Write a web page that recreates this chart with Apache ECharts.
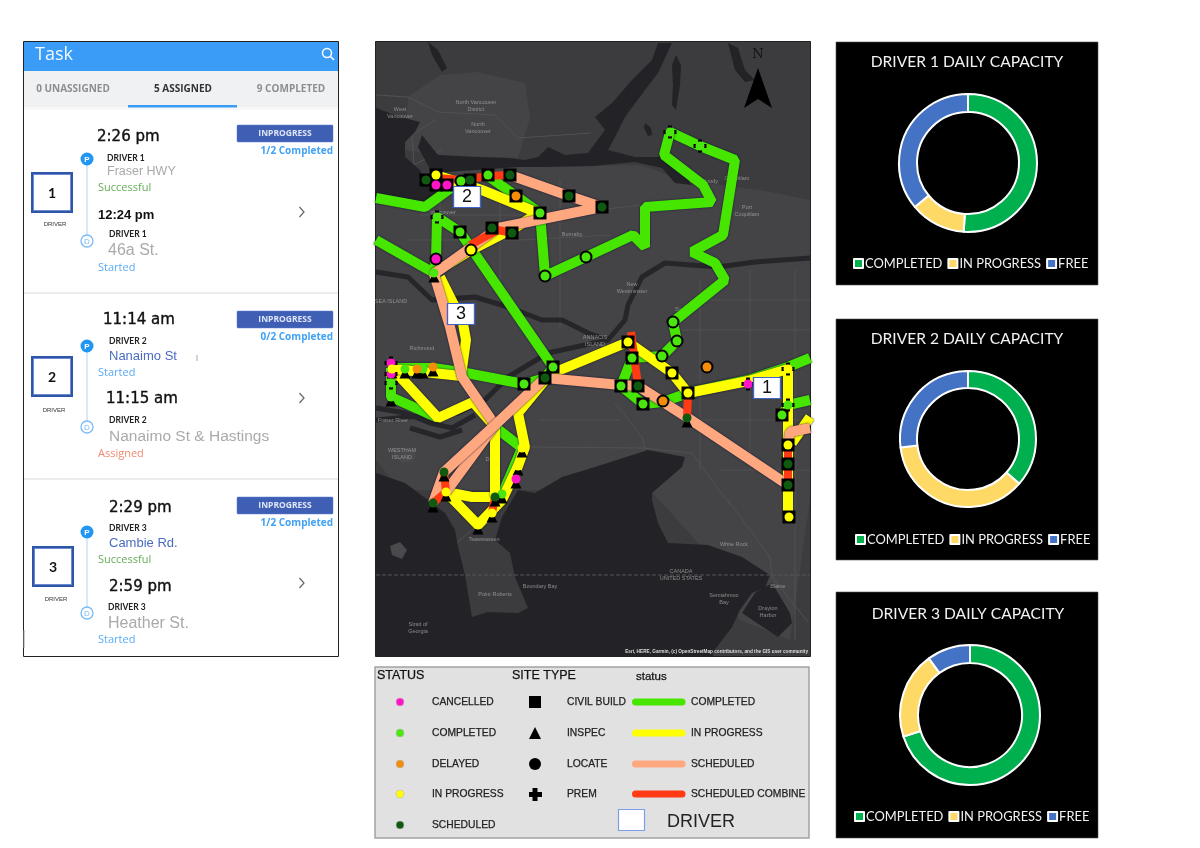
<!DOCTYPE html>
<html><head><meta charset="utf-8">
<style>html,body{margin:0;padding:0;background:#fff}#c{width:1200px;height:848px}</style>
<script src="https://cdn.jsdelivr.net/npm/echarts@6/dist/echarts.min.js"></script>
</head><body><div id="c"></div>
<script>
// ---------- donut values ----------
const capacityNames = ['COMPLETED','IN PROGRESS','FREE'];
const driver1Capacity = [51,13,36];
const driver2Capacity = [36.4,36.6,27];
const driver3Capacity = [70,20,10];
const driverTitles = ['DRIVER 1 DAILY CAPACITY','DRIVER 2 DAILY CAPACITY','DRIVER 3 DAILY CAPACITY'];

// ---------- routes (map coordinates) ----------
const completedRoutes = [
 [[670,132],[700,146],[735,160],[723,235],[692,252],[715,263],[725,280],[673,322],[677,341],[662,356]],
 [[670,132],[664,155],[703,185],[712,202],[645,207],[645,247],[633,235],[586,257],[545,276],[540,213],[488,176]],
 [[376,198],[425,207],[462,180]],
 [[376,240],[434,273],[436,259],[437,217],[460,232],[553,367],[545,378],[524,384],[461,372],[433,368],[392,368]],
 [[391,368],[391,397],[438,418]],
 [[495,427],[522,448],[502,495]],
 [[810,358],[788,367],[748,380],[688,393],[663,402],[643,404],[621,386],[632,358],[662,356]],
 [[810,400],[788,405],[782,415]]
];
const inProgressRoutes = [
 [[628,342],[553,373],[545,380],[518,413],[525,447],[518,466],[502,500],[478,525],[446,492],[472,497],[495,497]],
 [[392,368],[438,418],[473,402],[495,427],[495,497]],
 [[392,369],[433,373],[461,376],[466,340],[462,318],[453,303],[440,277]],
 [[628,342],[672,373],[688,393],[748,381],[788,369],[788,517]],
 [[436,175],[482,190],[538,213],[518,226],[471,250],[434,273]],
 [[810,417],[792,443]]
];
const scheduledRoutes = [
 [[510,175],[569,196],[602,207],[498,228],[434,274],[450,327],[462,377],[495,425],[446,492]],
 [[545,378],[495,425],[444,472],[433,503]],
 [[545,378],[621,385],[638,386],[688,418],[788,485]],
 [[810,428],[790,432],[788,445]]
];
const combineRoutes = [
 [[436,178],[462,180],[488,176],[510,175]],
 [[470,245],[498,230],[512,233]],
 [[631,332],[638,386]],
 [[688,393],[687,418]],
 [[788,445],[788,485]],
 [[444,472],[446,492],[433,503]],
 [[495,497],[492,513]]
];

// ---------- sites: x, y, status, site type ----------
const sitePoints = [
 [670,132,'COMPLETED','PREM'],[700,146,'COMPLETED','PREM'],[426,180,'SCHEDULED','CIVIL BUILD'],
 [436,175,'IN PROGRESS','CIVIL BUILD'],[436,185,'CANCELLED','CIVIL BUILD'],[447,185,'CANCELLED','CIVIL BUILD'],
 [470,180,'SCHEDULED','CIVIL BUILD'],[461,181,'COMPLETED','LOCATE'],[488,175,'COMPLETED','CIVIL BUILD'],
 [510,175,'SCHEDULED','CIVIL BUILD'],[516,196,'DELAYED','CIVIL BUILD'],[540,213,'COMPLETED','CIVIL BUILD'],
 [569,196,'SCHEDULED','CIVIL BUILD'],[602,207,'SCHEDULED','CIVIL BUILD'],[492,228,'SCHEDULED','CIVIL BUILD'],
 [512,233,'SCHEDULED','CIVIL BUILD'],[471,250,'IN PROGRESS','LOCATE'],[460,232,'COMPLETED','CIVIL BUILD'],
 [437,217,'COMPLETED','PREM'],[436,259,'CANCELLED','LOCATE'],[434,273,'COMPLETED','INSPEC'],
 [545,276,'COMPLETED','LOCATE'],[586,257,'COMPLETED','LOCATE'],[673,322,'COMPLETED','LOCATE'],
 [677,341,'COMPLETED','LOCATE'],[662,356,'COMPLETED','LOCATE'],[628,342,'IN PROGRESS','CIVIL BUILD'],
 [632,358,'COMPLETED','CIVIL BUILD'],[672,373,'IN PROGRESS','CIVIL BUILD'],[707,367,'DELAYED','LOCATE'],
 [621,386,'COMPLETED','CIVIL BUILD'],[638,386,'SCHEDULED','CIVIL BUILD'],[643,404,'COMPLETED','CIVIL BUILD'],
 [663,401,'DELAYED','LOCATE'],[688,393,'IN PROGRESS','CIVIL BUILD'],[687,418,'SCHEDULED','INSPEC'],
 [748,384,'CANCELLED','PREM'],[788,369,'IN PROGRESS','PREM'],[788,405,'COMPLETED','PREM'],
 [782,415,'COMPLETED','CIVIL BUILD'],[788,445,'IN PROGRESS','CIVIL BUILD'],[788,464,'SCHEDULED','CIVIL BUILD'],
 [788,485,'SCHEDULED','CIVIL BUILD'],[789,517,'IN PROGRESS','CIVIL BUILD'],[553,367,'COMPLETED','CIVIL BUILD'],
 [545,378,'SCHEDULED','CIVIL BUILD'],[524,384,'COMPLETED','CIVIL BUILD'],[391,363,'CANCELLED','PREM'],
 [391,374,'CANCELLED','PREM'],[391,383,'COMPLETED','PREM'],[391,397,'COMPLETED','INSPEC'],
 [392,369,'IN PROGRESS','INSPEC'],[405,369,'COMPLETED','INSPEC'],[417,369,'DELAYED','INSPEC'],
 [423,369,'COMPLETED','INSPEC'],[433,367,'DELAYED','INSPEC'],[522,448,'IN PROGRESS','INSPEC'],
 [518,466,'IN PROGRESS','INSPEC'],[516,479,'CANCELLED','INSPEC'],[502,494,'COMPLETED','INSPEC'],
 [495,497,'SCHEDULED','INSPEC'],[492,513,'IN PROGRESS','INSPEC'],[478,525,'IN PROGRESS','INSPEC'],
 [446,492,'IN PROGRESS','INSPEC'],[444,472,'SCHEDULED','INSPEC'],[433,503,'SCHEDULED','INSPEC']
];
const driverMarkers = [[767,388,'1'],[467,197,'2'],[461,314,'3']];

// ---------- base map ----------
const urbanAreas = [
 [[405,150],[408,97],[440,75],[478,72],[525,83],[530,118],[518,158],[438,155]],
 [[376,196],[432,173],[518,167],[592,166],[640,165],[682,180],[760,190],[810,200],[810,500],[790,640],[740,620],[700,545],[650,490],[400,490],[376,460]]
];
const waterBodies = [
 [[376,108],[400,117],[420,122],[415,132],[405,142],[405,157],[420,170],[425,185],[440,190],[445,197],[420,205],[376,195]],
 [[422,135],[438,155],[475,157],[508,158],[525,160],[538,157],[548,147],[565,155],[588,153],[605,130],[595,117],[612,103],[632,80],[652,60],[658,43],[672,43],[658,73],[645,90],[625,117],[615,137],[608,150],[635,157],[662,157],[682,173],[692,185],[675,183],[662,168],[635,162],[592,166],[542,167],[518,167],[475,170],[432,173],[418,147]],
 [[376,473],[405,483],[428,500],[445,513],[455,530],[458,547],[465,575],[472,617],[488,612],[518,613],[528,608],[515,577],[510,553],[495,540],[502,517],[518,490],[535,493],[562,477],[595,467],[648,450],[685,457],[682,467],[652,493],[652,500],[658,523],[668,543],[708,545],[742,557],[770,575],[765,588],[752,593],[740,610],[732,627],[713,652],[713,656],[376,656]],
 [[772,583],[790,613],[792,623],[778,637],[742,613],[755,593]],
 [[428,42],[438,50],[447,68],[442,72],[432,55]],
 [[676,55],[681,65],[680,85],[676,110],[672,105],[673,85],[672,65]],
 [[728,43],[738,48],[745,70],[755,80],[745,82],[735,70]],
 [[645,123],[651,128],[652,135],[648,136],[644,128]]
];
const landPatches = [
 [[390,546],[400,542],[407,550],[402,559],[392,555]],
 [[391,447],[415,450],[415,460],[403,463],[394,457]]
];
const riverChannels = [
 [[810,258],[755,262],[718,267],[665,263],[642,277],[628,305],[625,320],[608,340],[548,353],[508,377],[485,400],[458,413],[408,417],[376,420]],
 [[376,408],[405,413],[430,423],[452,428],[475,415]],
 [[410,428],[440,437],[462,430]],
 [[376,272],[408,277],[432,300],[475,297],[508,307],[542,320],[562,320],[588,333],[608,340]]
];
const roadLines = [
 [[728,500],[770,557],[772,577],[808,622]],[[528,447],[642,448],[692,453],[730,505]],
 [[615,403],[642,437],[645,448]],[[376,95],[408,97],[438,112],[495,115],[518,138],[591,133]],
 [[432,500],[402,543]],[[478,525],[430,565]],[[442,150],[414,165],[412,135],[435,120]],
 [[420,215],[560,215],[640,205]],[[410,240],[520,240],[610,235]],[[440,180],[440,290]],[[500,170],[500,290]],
 [[560,180],[560,330]],[[690,300],[810,300]],[[680,330],[810,330]],[[700,420],[810,420]],[[720,470],[810,470]],
 [[700,280],[700,470]],[[750,270],[750,470]],[[795,270],[795,640]],[[540,420],[620,420]]
];
const borderLine = [[376,575],[810,575]];
const mapLabels = [
 ['West\nVancouver',400,113],['North Vancouver\nDistrict',476,106],['North\nVancouver',478,128],['Vancouver',443,212],
 ['Burnaby',572,234],['New\nWestminster',632,288],['Surrey',683,309],['Port Moody',704,181],['Coquitlam',737,178],
 ['Port\nCoquitlam',747,211],['SEA ISLAND',391,301],['Richmond',422,348],['ANNACIS\nISLAND',595,341],['Fraser River',393,420],
 ['WESTHAM\nISLAND',402,454],['Ladner',472,453],['Delta',492,459],['Tsawwassen',484,539],['Point Roberts',495,594],
 ['Boundary Bay',540,586],['CANADA\nUNITED STATES',681,575],['White Rock',734,544],['Blaine',778,586],
 ['Semiahmoo\nBay',724,599],['Drayton\nHarbor',768,612],['Strait of\nGeorgia',418,628]
];
const attribution = 'Esri, HERE, Garmin, (c) OpenStreetMap contributors, and the GIS user community';

// ---------- task list ----------
const taskTabs = ['0 UNASSIGNED','5 ASSIGNED','9 COMPLETED'];
const cardProgress = ['1/2 Completed','0/2 Completed','1/2 Completed'];
const cardPickupTimes = ['2:26 pm','11:14 am','2:29 pm'];
const cardDropTimes = ['12:24 pm','11:15 am','2:59 pm'];
const cardPickupPlaces = ['Fraser HWY','Nanaimo St','Cambie Rd.'];
const cardDropPlaces = ['46a St.','Nanaimo St & Hastings','Heather St.'];
const cardPickupStates = ['Successful','Started','Successful'];
const cardDropStates = ['Started','Assigned','Started'];
const cardDrivers = ['DRIVER 1','DRIVER 2','DRIVER 3'];

// ---------- legend panel text ----------
const statusNames = ['CANCELLED','COMPLETED','DELAYED','IN PROGRESS','SCHEDULED'];
const siteNames = ['CIVIL BUILD','INSPEC','LOCATE','PREM'];
const routeNames = ['COMPLETED','IN PROGRESS','SCHEDULED','SCHEDULED COMBINE'];

// ---------- styles ----------
const statusColor = {'CANCELLED':'#ff14c8','COMPLETED':'#4be60f','DELAYED':'#f58c0a','IN PROGRESS':'#ffff00','SCHEDULED':'#0f5a10'};
const routeColor = {'COMPLETED':'#46e600','IN PROGRESS':'#ffff00','SCHEDULED':'#ffa77f','SCHEDULED COMBINE':'#ff3a14'};
const capColors = ['#00b04f','#ffd966','#4472c4'];
const crossPath = 'path://M35 0H65V35H100V65H65V100H35V65H0V35H35Z';
const siteSymbol = {'CIVIL BUILD':'rect','INSPEC':'triangle','LOCATE':'circle','PREM':crossPath};
const siteSize = {'CIVIL BUILD':13,'INSPEC':11,'LOCATE':13,'PREM':13};
const siteOffset = {'CIVIL BUILD':[0,0],'INSPEC':[0,4],'LOCATE':[0,0],'PREM':[0,0]};

const SANS='"Liberation Sans",Arial,sans-serif';
const g=[];
function T(x,y,text,font,fill,align,z,sw){
  g.push({type:'text',z:z||1,style:{text,x,y,font,fill,stroke:sw?fill:null,lineWidth:sw||0,align:align||'left',textAlign:align||'left',verticalAlign:'middle',textVerticalAlign:'middle',textBaseline:'middle'}});
}
function R(x,y,w,h,fill,stroke,lw,r,z){
  g.push({type:'rect',z:z||0,shape:{x,y,width:w,height:h,r:r||0},style:{fill,stroke:stroke||null,lineWidth:lw||0}});
}
function L(x1,y1,x2,y2,stroke,lw,z){
  g.push({type:'line',z:z||1,shape:{x1,y1,x2,y2},style:{stroke,lineWidth:lw}});
}
function C(cx,cy,r,fill,stroke,lw,z){
  g.push({type:'circle',z:z||1,shape:{cx,cy,r},style:{fill,stroke:stroke||null,lineWidth:lw||0}});
}

// ---- task panel
R(23.5,41.5,315,615,'#fff','#222',1);
R(24,42,314,29,'#3a9cf6');
T(35,55,'Task','18px "Open Sans",sans-serif','#f2f8ff');
C(327,53,4.5,'none','#fff',1.5,2);L(330.5,56.5,334,60,'#fff',1.6,2);
R(24,71,314,36,'#f0f1f2');
R(24,107,314,3,'#f8f8f8');
const tabX=[73,183,291], tabCol=['#8e8e8e','#333','#8e8e8e'];
taskTabs.forEach((t,i)=>T(tabX[i],89,t,'bold 10px "Open Sans",sans-serif',tabCol[i],'center'));
R(128,105,109,2.5,'#3a9cf6',null,0,0,1);
L(24,293,338,293,'#e6e6e6',1.5);L(24,479,338,479,'#e6e6e6',1.5);
L(24,630,24,648,'#999',1);L(197,355,197,361,'#aaa',1);

const cards=[
 {btn:125,prog:151,box:[31,172],boxLbl:[55,224],p:159,d:241,t1:[97,137],dr1:[107,158],pl1:[107,172],st1:188,t2:[98,215],dr2:[109,234],pl2:[108,251],st2:268,chev:212,t1f:'15px',t2f:'bold 13px',pl1f:'12.5px',pl2f:'16px',pl1c:'#a9a9a9',st1c:'#66ad5a',st2c:'#5aabf5'},
 {btn:311,prog:337,box:[31,356],boxLbl:[54,410],p:346,d:427,t1:[103,320],dr1:[109,341],pl1:[109,356],st1:373,t2:[106,399],dr2:[109,420],pl2:[109,437],st2:454,chev:398,t1f:'15px',t2f:'15px',pl1f:'13px',pl2f:'15.5px',pl1c:'#4a6bc0',st1c:'#5aabf5',st2c:'#f08a72'},
 {btn:497,prog:523,box:[32,546],boxLbl:[56,599],p:532,d:613,t1:[109,508],dr1:[109,528],pl1:[109,543],st1:560,t2:[109,587],dr2:[108,607],pl2:[108,624],st2:640,chev:583,t1f:'15px',t2f:'15px',pl1f:'13px',pl2f:'16px',pl1c:'#4a6bc0',st1c:'#66ad5a',st2c:'#5aabf5'}
];
const TIME='"DejaVu Sans",sans-serif';
const SMALL='bold 8.5px Lato,sans-serif';
cards.forEach((c,i)=>{
  R(237,c.btn,96,17,'#3f5fb5','#5f7fd0',0.5,1,1);
  T(285,c.btn+8.5,'INPROGRESS','bold 8.5px "Open Sans",sans-serif','#dfe6f7','center',2);
  T(333,c.prog,cardProgress[i],'bold 10px "Open Sans",sans-serif','#42a2f5','right');
  R(c.box[0]+1.5,c.box[1]+1.5,39,38,'#fff','#2f55a8',3,0,1);
  R(c.box[0]+2.5,c.box[1]+2.5,37,36,'none','#86a4e0',0.7,0,2);
  T(c.box[0]+21,c.box[1]+21.5,String(i+1),'bold 14px Lato,sans-serif','#111','center',3);
  T(c.boxLbl[0],c.boxLbl[1],'DRIVER','6px '+SANS,'#333','center');
  L(87,c.p,87,c.d,'#bcdcf8',1.2);
  C(87,c.p,6.5,'#2196f3',null,0,2);
  T(87,c.p+.5,'P','bold 8px '+SANS,'#fff','center',3);
  C(87,c.d,6,'#fff','#79bbf7',1.3,2);
  T(87,c.d+.5,'D','8px '+SANS,'#79bbf7','center',3);
  T(c.t1[0],c.t1[1],cardPickupTimes[i],c.t1f+' '+TIME,'#111',null,1,0.4);
  T(c.dr1[0],c.dr1[1],cardDrivers[i],SMALL,'#222');
  T(c.pl1[0],c.pl1[1],cardPickupPlaces[i],c.pl1f+' '+SANS,c.pl1c);
  T(98,c.st1,cardPickupStates[i],'11px "Open Sans",sans-serif',c.st1c);
  T(c.t2[0],c.t2[1],cardDropTimes[i],c.t2f+' '+(i?TIME:SANS),'#111',null,1,i?0.4:0);
  T(c.dr2[0],c.dr2[1],cardDrivers[i],SMALL,'#222');
  T(c.pl2[0],c.pl2[1],cardDropPlaces[i],c.pl2f+' '+SANS,'#aaa');
  T(98,c.st2,cardDropStates[i],'11px "Open Sans",sans-serif',c.st2c);
  g.push({type:'polyline',z:1,shape:{points:[[299.5,c.chev-5],[304,c.chev],[299.5,c.chev+5]]},style:{stroke:'#666',lineWidth:1.2,fill:'none'}});
});

// ---- map frame + north arrow
R(375.5,41.5,435,615,'#3c3c3e','#222',1);
T(758,55,'N','13px "DejaVu Serif",serif','#111','center',100);
g.push({type:'polygon',z:100,shape:{points:[[758,68],[772,108],[758,99],[744,108]]},style:{fill:'#000'}});
T(808,652,attribution,'bold 4.7px '+SANS,'#ddd','right',100);

// ---- map legend panel
R(375,667,434,171,'#e1e1e1','#a3a3a3',1.5);
const HEAD='12.5px '+SANS, LBL='10.3px '+SANS;
T(377,676,'STATUS',HEAD,'#111',null,1,0.25);T(512,676,'SITE TYPE',HEAD,'#111',null,1,0.25);T(636,677,'status','11.5px '+SANS,'#111',null,1,0.25);
const rows=[702,733,764,794,825];
statusNames.forEach((n,i)=>{C(400,rows[i],4,statusColor[n],'#bbb',0.6);T(432,rows[i],n,LBL,'#222',null,1,0.25);});
siteNames.forEach((n,i)=>{T(567,rows[i],n,LBL,'#222',null,1,0.25);});
R(529,696,12,12,'#000');
g.push({type:'polygon',z:1,shape:{points:[[535,727],[541,739],[529,739]]},style:{fill:'#000'}});
C(535,764,6,'#000');
R(532.5,788,5,13,'#000');R(529,792,13,5,'#000');
routeNames.forEach((n,i)=>{
  g.push({type:'line',z:1,shape:{x1:635.5,y1:rows[i],x2:682,y2:rows[i]},style:{stroke:routeColor[n],lineWidth:7,lineCap:'round'}});
  T(691,rows[i],n,LBL,'#222',null,1,0.25);
});
R(618.5,809.5,26,21,'#fff','#7e9de8',1.2);
T(667,822,'DRIVER','18px '+SANS,'#222');

// ---- donut panels
const panels=[[836,42,262,243],[836,319,262,241],[836,592,262,246]];
panels.forEach(p=>R(p[0],p[1],p[2],p[3],'#000','#555',0.6));

// ---------- series ----------
const series=[];
function polySeries(polys,fill,z){
  series.push({type:'custom',coordinateSystem:'cartesian2d',xAxisIndex:0,yAxisIndex:0,z,silent:true,clip:true,
    data:polys.map(p=>p[0]),
    renderItem:(params,api)=>({type:'polygon',shape:{points:polys[params.dataIndex].map(v=>api.coord(v))},style:{fill}})});
}
function lineSeries(name,paths,color,width,z,extra){
  paths.forEach(p=>series.push(Object.assign({type:'line',name,data:p,coordinateSystem:'cartesian2d',xAxisIndex:0,yAxisIndex:0,
    symbol:'none',silent:true,z,lineStyle:{color,width,cap:'butt',join:'bevel'}},extra||{})));
}
polySeries(urbanAreas,'#444446',1);
lineSeries('roads',roadLines,'#515153',1,1.1);
polySeries(waterBodies,'#232226',1.2);
polySeries(landPatches,'#4a4a4c',1.3);
lineSeries('rivers',riverChannels,'#262529',5,1.25);
lineSeries('border',[borderLine],'#55555a',1,1.4,{lineStyle:{color:'#55555a',width:1,type:'dashed'}});
series.push({type:'scatter',name:'labels',silent:true,z:1.5,symbolSize:0,data:mapLabels.map(l=>({value:[l[1],l[2]],name:l[0]})),
  label:{show:true,position:'inside',formatter:'{b}',color:'#a4a4a4',fontSize:5.5,lineHeight:7,fontFamily:'Liberation Sans'}});
const rw=10;
const routeShadow=c=>({lineStyle:{color:c,width:rw,cap:'butt',join:'bevel',shadowColor:'rgba(5,10,50,0.9)',shadowBlur:2}});
lineSeries('COMPLETED route',completedRoutes,routeColor['COMPLETED'],rw,3,routeShadow(routeColor['COMPLETED']));
lineSeries('IN PROGRESS route',inProgressRoutes,routeColor['IN PROGRESS'],rw,3.1,routeShadow(routeColor['IN PROGRESS']));
lineSeries('SCHEDULED route',scheduledRoutes,routeColor['SCHEDULED'],rw,3.2,routeShadow(routeColor['SCHEDULED']));
lineSeries('SCHEDULED COMBINE route',combineRoutes,routeColor['SCHEDULED COMBINE'],rw-2,3.3);
siteNames.forEach(s=>series.push({type:'scatter',name:'site '+s,silent:true,z:4,symbol:siteSymbol[s],symbolSize:siteSize[s],symbolOffset:siteOffset[s],
  itemStyle:{color:'#000',opacity:1},data:sitePoints.filter(p=>p[3]===s).map(p=>[p[0],p[1]])}));
statusNames.forEach(s=>series.push({type:'scatter',name:'status '+s,silent:true,z:5,symbolSize:9,
  itemStyle:{color:statusColor[s],opacity:1},data:sitePoints.filter(p=>p[2]===s).map(p=>[p[0],p[1]])}));
series.push({type:'scatter',name:'drivers',silent:true,z:6,symbol:'rect',symbolSize:[27,21],
  itemStyle:{color:'#fff',borderColor:'#3f63c8',borderWidth:1.2,opacity:1},
  data:driverMarkers.map(d=>({value:[d[0],d[1]],name:d[2]})),
  label:{show:true,position:'inside',formatter:'{b}',color:'#111',fontSize:18,fontFamily:'Liberation Sans'}});

const capData=[driver1Capacity,driver2Capacity,driver3Capacity];
const pieCenters=[[968,163],[968,439],[970,715]];
const pieRadii=[[51,69],[51,68],[52,70]];
capData.forEach((vals,i)=>series.push({type:'pie',name:driverTitles[i],center:pieCenters[i],radius:pieRadii[i],startAngle:90,clockwise:true,
  silent:true,z:7,label:{show:false},labelLine:{show:false},
  itemStyle:{borderColor:'#fff',borderWidth:2},
  data:capacityNames.map((n,j)=>({name:n,value:vals[j],itemStyle:{color:capColors[j]}}))}));

const titleY=[62,339,614], titleX=[967,967,968], legendY=[263,539,816], legendX=[853,855,854];
const option={
  animation:false,backgroundColor:'#fff',
  grid:{left:376,top:42,width:434,height:614,show:false,containLabel:false},
  xAxis:{type:'value',min:376,max:810,show:false},
  yAxis:{type:'value',min:42,max:656,inverse:true,show:false},
  title:driverTitles.map((t,i)=>({text:t,left:titleX[i],top:titleY[i],textAlign:'center',textVerticalAlign:'middle',
    textStyle:{color:'#f2f2f2',fontFamily:'Lato',fontSize:15.6,fontWeight:'normal'},padding:0})),
  legend:capData.map((_,i)=>({data:capacityNames,left:legendX[i],top:legendY[i]-6,orient:'horizontal',padding:0,itemGap:5,itemWidth:9,itemHeight:9,icon:'rect',
    selectedMode:false,textStyle:{color:'#f2f2f2',fontFamily:'Lato',fontSize:12.9,padding:[0,0,0,-3]},
    itemStyle:{borderColor:'#fff',borderWidth:2}})),
  graphic:{elements:g},
  series
};
const chart=echarts.init(document.getElementById('c'),null,{renderer:'canvas'});
chart.setOption(option);
</script></body></html>
